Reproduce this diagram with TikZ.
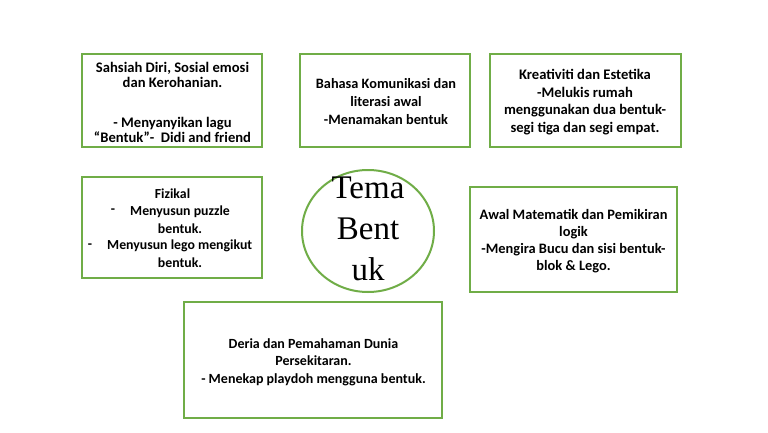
\documentclass[tikz,border=0pt]{standalone}
\usepackage{fontspec}
\setmainfont{Carlito}
\newfontfamily\timesf{Liberation Serif}
\definecolor{boxgreen}{RGB}{112,173,71}
\begin{document}
\begin{tikzpicture}[x=1pt,y=-1pt,
  boxframe/.style={draw=boxgreen,line width=2.2pt,fill=white},
  boxtext/.style={align=center,inner sep=0pt},
  fs/.style 2 args={font=\bfseries\fontsize{#1}{#2}\selectfont}]
\useasboundingbox (0,0) rectangle (768,433);
\fill[white] (0,0) rectangle (768,433);
% boxes
\draw[boxframe] (82,54) rectangle (262,147);
\draw[boxframe] (300,54) rectangle (470,147);
\draw[boxframe] (490,54) rectangle (681,147);
\draw[boxframe] (82,177) rectangle (262,278);
\draw[boxframe] (470,187) rectangle (677,292);
\draw[boxframe] (184,302) rectangle (442,418);
\draw[draw=boxgreen,line width=2pt] (368,231) ellipse [x radius=66, y radius=61];
% texts
\node[boxtext,fs={14.6}{15}] (t1) at (172.5,102) {Sahsiah Diri, Sosial emosi\\dan Kerohanian.\\[25pt]- Menyanyikan lagu\\“Bentuk”-\ \ Didi and friend};
\node[boxtext,fs={14.3}{18.3}] (t2) at (386,101.5) {Bahasa Komunikasi dan\\literasi awal\\-Menamakan bentuk};
\node[boxtext,fs={14.6}{17.7}] (t3) at (585,102) {Kreativiti dan Estetika\\-Melukis rumah\\menggunakan dua bentuk-\\segi tiga dan segi empat.};
\node[boxtext,fs={13.8}{17.3}] (t4a) at (172.5,193.7) {Fizikal};
\node[boxtext,fs={13.8}{17.3},anchor=west] (t4b) at (130,211.3) {Menyusun puzzle};
\node[boxtext,fs={13.8}{17.3}] (t4bd) at (113,211.3) {-};
\node[boxtext,fs={13.8}{17.3}] (t4c) at (180,228.7) {bentuk.};
\node[boxtext,fs={13.8}{17.3},anchor=west] (t4d) at (107,246) {Menyusun lego mengikut};
\node[boxtext,fs={13.8}{17.3}] (t4dd) at (90,246) {-};
\node[boxtext,fs={13.8}{17.3}] (t4e) at (180,262.7) {bentuk.};
\node[boxtext,fs={14.4}{17.2}] (t5) at (573.5,241) {Awal Matematik dan Pemikiran\\logik\\-Mengira Bucu dan sisi bentuk-\\blok \& Lego.};
\node[boxtext,fs={14}{17.5}] (t6) at (313.5,362) {Deria dan Pemahaman Dunia\\Persekitaran.\\- Menekap playdoh mengguna bentuk.};
\node[align=center,inner sep=0pt,font=\timesf\fontsize{33}{41}\selectfont] (c) at (368,229) {Tema\\Bent\\uk};
\end{tikzpicture}
\end{document}
